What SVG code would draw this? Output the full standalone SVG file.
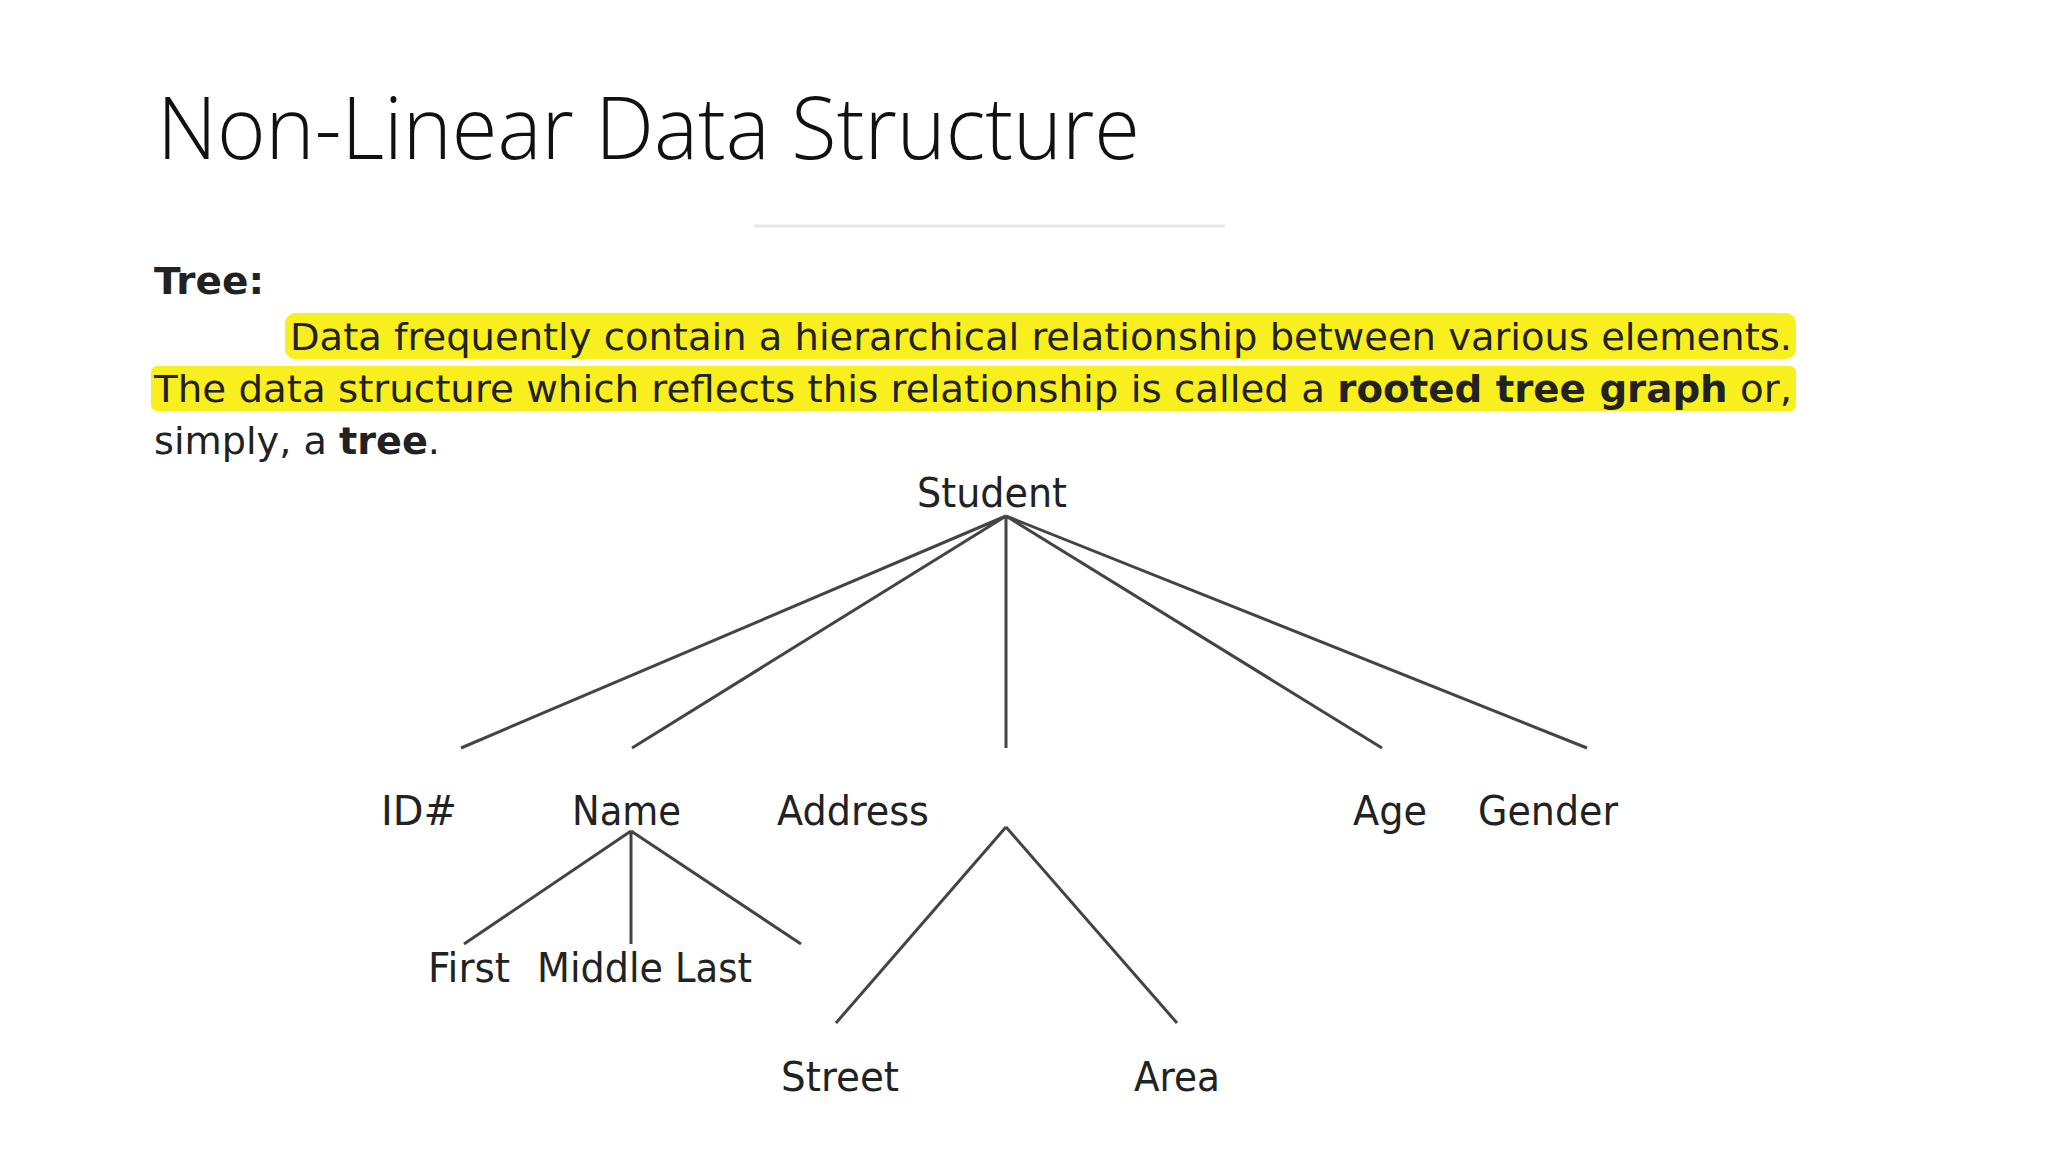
<svg xmlns="http://www.w3.org/2000/svg" width="2048" height="1152" viewBox="0 0 2048 1152">
<style>
.t{font-family:"DejaVu Sans","Liberation Sans",sans-serif;font-size:38px;fill:#222}
.n{font-family:"DejaVu Sans","Liberation Sans",sans-serif;font-size:40px;fill:#222}
.e{stroke:#444;stroke-width:3;fill:none}
</style>
<rect width="2048" height="1152" fill="#fff"/>
<text x="157" y="159" font-family="Open Sans, Liberation Sans, sans-serif" font-weight="300" font-size="86" fill="#111" textLength="983" lengthAdjust="spacingAndGlyphs">Non-Linear Data Structure</text>
<line x1="754" y1="226" x2="1225" y2="226" stroke="#e6e6e6" stroke-width="3"/>
<rect x="285" y="313" width="1511" height="46" rx="10" fill="#f9ef1e"/>
<rect x="151" y="366" width="1645" height="45" rx="6" fill="#f9ef1e"/>
<text class="t" x="154" y="294" font-weight="bold" textLength="110" lengthAdjust="spacingAndGlyphs">Tree:</text>
<text class="t" x="290" y="350" textLength="1502" lengthAdjust="spacingAndGlyphs">Data frequently contain a hierarchical relationship between various elements.</text>
<text class="t" x="154" y="402" textLength="1638" lengthAdjust="spacingAndGlyphs">The data structure which reflects this relationship is called a <tspan font-weight="bold">rooted tree graph</tspan> or,</text>
<text class="t" x="154" y="454" textLength="286" lengthAdjust="spacingAndGlyphs">simply, a <tspan font-weight="bold">tree</tspan>.</text>
<g id="connectors">
<path class="e" d="M1006 516L461 748M1006 516L632 748M1006 516V748M1006 516L1382 748M1006 516L1587 748"/>
<path class="e" d="M631 831L464 944M631 831V944M631 831L801 944"/>
<path class="e" d="M1006 827L836 1023M1006 827L1177 1023"/>
</g>
<g id="student"><text class="n" x="917" y="507" textLength="150" lengthAdjust="spacingAndGlyphs">Student</text></g>
<g id="id"><text class="n" x="381" y="825" textLength="76" lengthAdjust="spacingAndGlyphs">ID#</text></g>
<g id="name"><text class="n" x="572" y="825" textLength="109" lengthAdjust="spacingAndGlyphs">Name</text></g>
<g id="address"><text class="n" x="777" y="825" textLength="152" lengthAdjust="spacingAndGlyphs">Address</text></g>
<g id="age"><text class="n" x="1353" y="825" textLength="74" lengthAdjust="spacingAndGlyphs">Age</text></g>
<g id="gender"><text class="n" x="1478" y="825" textLength="140" lengthAdjust="spacingAndGlyphs">Gender</text></g>
<g id="first"><text class="n" x="428" y="982" textLength="82" lengthAdjust="spacingAndGlyphs">First</text></g>
<g id="middle"><text class="n" x="537" y="982" textLength="126" lengthAdjust="spacingAndGlyphs">Middle</text></g>
<g id="last"><text class="n" x="675" y="982" textLength="77" lengthAdjust="spacingAndGlyphs">Last</text></g>
<g id="street"><text class="n" x="781" y="1091" textLength="118" lengthAdjust="spacingAndGlyphs">Street</text></g>
<g id="area"><text class="n" x="1134" y="1091" textLength="86" lengthAdjust="spacingAndGlyphs">Area</text></g>
</svg>
